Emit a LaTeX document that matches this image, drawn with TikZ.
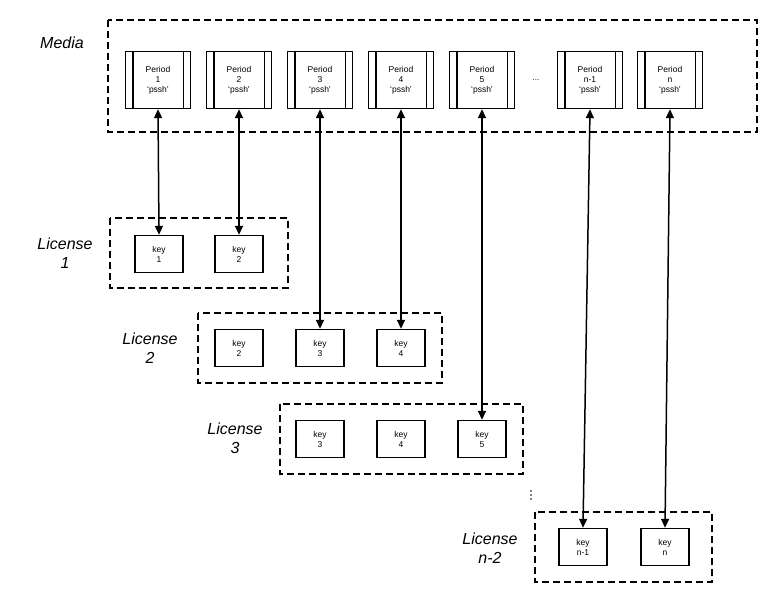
\documentclass[tikz,border=0pt]{standalone}
\usepackage{fontspec}
\setmainfont{Liberation Sans}
\usetikzlibrary{arrows.meta}
\begin{document}
\begin{tikzpicture}[x=1pt,y=-1pt,
  grp/.style={draw,line width=1.4pt,dash pattern=on 7pt off 4pt},
  per/.style={draw,line width=1.4pt,minimum width=65pt,minimum height=57pt,font=\fontsize{8.5}{10}\selectfont,align=center,
    append after command={
      (\tikzlastnode.north west) ++(8,0) edge[line width=1.4pt] ++(0,57)
      (\tikzlastnode.north east) ++(-8,0) edge[line width=1.4pt] ++(0,57)}},
  key/.style={draw,line width=1.4pt,minimum width=48pt,minimum height=37pt,font=\fontsize{8.5}{10}\selectfont,align=center},
  lab/.style={font=\itshape\fontsize{16}{19}\selectfont,align=center},
  arr/.style={{Triangle[length=9pt,width=8pt]}-{Triangle[length=9pt,width=8pt]},line width=1.5pt}]
\useasboundingbox (0,0) rectangle (770,590);
\draw[grp] (108,20) rectangle (757,132);
\node[lab] (lm) at (62,43) {Media};
\node[per] (p1) at (158,80) {Period\\1\\`pssh'};
\node[per] (p2) at (239,80) {Period\\2\\`pssh'};
\node[per] (p3) at (320,80) {Period\\3\\`pssh'};
\node[per] (p4) at (401,80) {Period\\4\\`pssh'};
\node[per] (p5) at (482,80) {Period\\5\\`pssh'};
\node (pd) at (536,80) {\fontsize{8}{9}\selectfont ...};
\node[per] (pn1) at (590,80) {Period\\n-1\\`pssh'};
\node[per] (pn) at (670,80) {Period\\n\\`pssh'};
% License 1
\draw[grp] (110,218) rectangle (288,288);
\node[lab] (l1) at (65,253) {License\\1};
\node[key] (a1) at (159,254) {key\\1};
\node[key] (a2) at (239,254) {key\\2};
% License 2
\draw[grp] (198,313) rectangle (442,383);
\node[lab] (l2) at (150,348) {License\\2};
\node[key] (b2) at (239,348) {key\\2};
\node[key] (b3) at (320,348) {key\\3};
\node[key] (b4) at (401,348) {key\\4};
% License 3
\draw[grp] (280,404) rectangle (523,474);
\node[lab] (l3) at (235,438) {License\\3};
\node[key] (c3) at (320,439) {key\\3};
\node[key] (c4) at (401,439) {key\\4};
\node[key] (c5) at (482,439) {key\\5};
% License n-2
\draw[grp] (535,512) rectangle (712,582);
\node[lab] (l4) at (490,548) {License\\n-2};
\node[key] (dn1) at (583,547) {key\\n-1};
\node[key] (dn) at (665,547) {key\\n};
\foreach \yy in {491,495,499} \fill (531,\yy) circle (0.8pt);
% arrows
\draw[arr] (p1.south) -- (a1.north);
\draw[arr] (p2.south) -- (a2.north);
\draw[arr] (p3.south) -- (b3.north);
\draw[arr] (p4.south) -- (b4.north);
\draw[arr] (p5.south) -- (c5.north);
\draw[arr] (pn1.south) -- (dn1.north);
\draw[arr] (pn.south) -- (dn.north);
\end{tikzpicture}
\end{document}
